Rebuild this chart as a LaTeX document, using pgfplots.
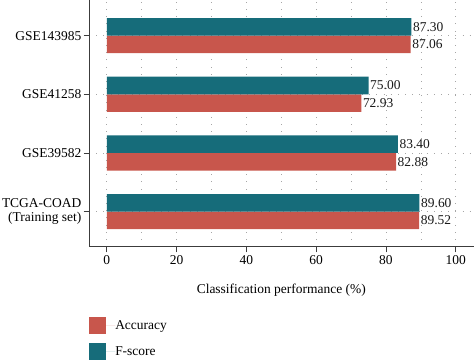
\documentclass[border=0pt]{standalone}
\usepackage{fontspec}
\setmainfont{Liberation Serif}
\usepackage{pgfplots}
\pgfplotsset{compat=1.18}
\definecolor{accred}{RGB}{200,86,76}
\definecolor{fteal}{RGB}{22,108,122}
\definecolor{axgray}{RGB}{60,60,60}
\begin{document}
\begin{tikzpicture}[font=\fontsize{13.5}{15}\selectfont]
\begin{axis}[
  scale only axis, width=384bp, height=246bp,
  xmin=-5.1, xmax=105.1, ymin=-0.6, ymax=3.6,
  xbar, bar width=0.3,
  axis x line*=bottom, axis y line*=left,
  axis line style={draw=axgray, line width=0.9pt},
  every tick/.style={draw=axgray, line width=0.8pt},
  tick align=outside, major tick length=5.5bp, minor tick length=0pt,
  xtick={0,20,40,60,80,100}, minor xtick={10,30,50,70,90},
  ytick={0,1,2,3},
  yticklabels={{TCGA-COAD\\(Training set)},GSE39582,GSE41258,GSE143985},
  yticklabel style={align=right, font=\fontsize{13.5}{14}\selectfont, inner sep=2bp},
  xticklabel style={font=\fontsize{13.5}{14}\selectfont},
  /pgf/number format/assume math mode=true,
  xmajorgrids, xminorgrids, ymajorgrids,
  grid style={draw=black!35, line width=0.7pt, dash pattern=on 0.7pt off 6.5pt},
  minor grid style={draw=black!35, line width=0.7pt, dash pattern=on 0.7pt off 6.5pt},
  xlabel={Classification performance (\%)},
  xlabel style={font=\fontsize{13.5}{14}\selectfont, yshift=-12bp},
  nodes near coords,
  nodes near coords style={font=\fontsize{13.5}{14}\selectfont, anchor=west, inner sep=1.5bp, text=black!90,
    /pgf/number format/.cd, fixed, fixed zerofill, precision=2, assume math mode=true},
  legend style={at={(0,-0.285)}, anchor=north west, draw=none, fill=none,
    font=\fontsize{13.5}{14}\selectfont, row sep=9bp, inner sep=0pt,
    nodes={inner sep=0pt, anchor=west}},
  legend cell align=left,
  legend image code/.code={\fill[#1, draw=none] (0bp,-8.5bp) rectangle (17bp,8.5bp); \path (17bp,0) -- (26bp,0);},
  clip=false,
]
\addplot[fill=accred, draw=none, bar shift=-0.15] coordinates {(89.52,0) (82.88,1) (72.93,2) (87.06,3)};
\addplot[fill=fteal, draw=none, bar shift=0.15] coordinates {(89.60,0) (83.40,1) (75.00,2) (87.30,3)};
\legend{Accuracy, F-score}
\end{axis}
\end{tikzpicture}
\end{document}
